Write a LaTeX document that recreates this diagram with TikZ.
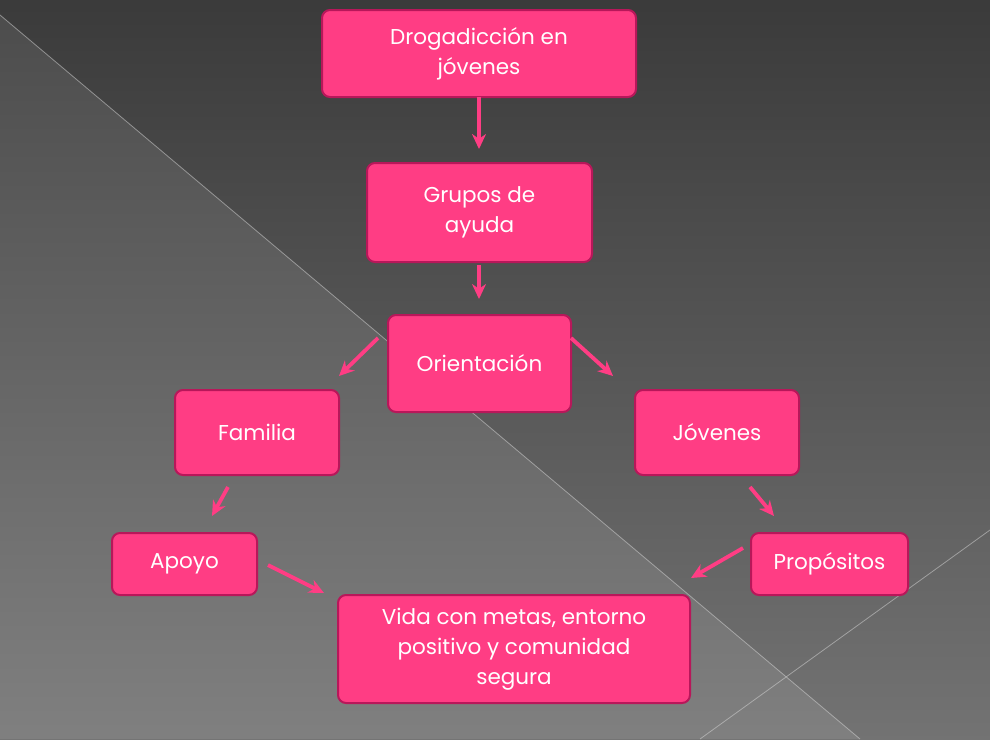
\documentclass[tikz,border=0pt]{standalone}
\usepackage{fontspec}
\setmainfont{Poppins}
\usetikzlibrary{arrows.meta}
\begin{document}
\begin{tikzpicture}[x=1pt,y=-1pt,
  box/.style={draw=boxline,line width=2pt,fill=boxpink,rounded corners=8pt,text=white,align=center,font=\fontsize{21.5}{30}\selectfont,inner sep=0pt},
  arr/.style={draw=boxpink,line width=3.8pt,-{Stealth[length=15pt,width=14pt]}}]
\definecolor{boxpink}{HTML}{FF3D84}
\definecolor{boxline}{HTML}{B8175A}
\useasboundingbox (0,0) rectangle (990,739);
\shade[top color=black!77,bottom color=black!55] (0,0) rectangle (990,739);
\shade[top color=black!70,bottom color=black!50] (0,15) -- (860,739) -- (0,739) -- cycle;
\draw[white!70!gray,line width=0.8pt,opacity=0.5] (0,15) -- (860,739);
\draw[white!70!gray,line width=0.8pt,opacity=0.5] (990,530) -- (700,739);
\node[box,minimum width=314,minimum height=87] (d) at (479,53.5) {Drogadicción en\\jóvenes};
\node[box,minimum width=225,minimum height=99] (g) at (479.5,212.5) {Grupos de\\ayuda};
\node[box,minimum width=183,minimum height=97] (o) at (479.5,363.5) {Orientación};
\node[box,minimum width=164,minimum height=85] (f) at (257,432.5) {Familia};
\node[box,minimum width=164,minimum height=85] (j) at (717,432.5) {Jóvenes};
\node[box,minimum width=145,minimum height=62] (a) at (184.5,564) {Apoyo};
\node[box,minimum width=157,minimum height=62] (p) at (829.5,564) {Propósitos};
\node[box,minimum width=352,minimum height=108] (v) at (514,649) {Vida con metas, entorno\\positivo y comunidad\\segura};
\coordinate (a1s) at (479,97); \coordinate (a1e) at (479,149);
\coordinate (a2s) at (479,265); \coordinate (a2e) at (479,299);
\coordinate (a3s) at (378,338); \coordinate (a3e) at (339,376);
\coordinate (a4s) at (571,338); \coordinate (a4e) at (613,376);
\coordinate (a5s) at (228,487); \coordinate (a5e) at (212,516);
\coordinate (a6s) at (750,487); \coordinate (a6e) at (774,516);
\coordinate (a7s) at (268,565); \coordinate (a7e) at (324,593);
\coordinate (a8s) at (743,548); \coordinate (a8e) at (691,578);
\foreach \i in {1,...,8} \draw[arr] (a\i s) -- (a\i e);
\end{tikzpicture}
\end{document}
